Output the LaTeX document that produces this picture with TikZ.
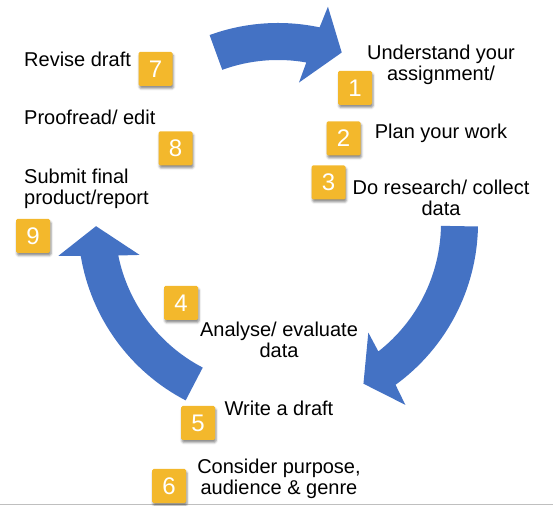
\documentclass[tikz,border=0pt]{standalone}
\usepackage{fontspec}
\setmainfont{Liberation Sans}
\usetikzlibrary{shadows.blur}
\definecolor{cycleblue}{HTML}{4472C4}
\definecolor{stepgold}{HTML}{F3B82C}

\begin{document}
\begin{tikzpicture}[
    x=1pt, y=1pt,
    numbox/.style={fill=stepgold, text=white, minimum size=34pt, inner sep=0pt, rounded corners=1.5pt, font=\fontsize{24}{24}\selectfont, blur shadow={shadow xshift=1pt, shadow yshift=-2.5pt, shadow blur steps=4, shadow opacity=45}},
    steptext/.style={font=\fontsize{20}{21}\selectfont, align=center, inner sep=0pt},
    lefttext/.style={font=\fontsize{20}{21}\selectfont, align=left, anchor=west, inner sep=0pt},
    cyclearrow/.style={fill=cycleblue}
]
    \useasboundingbox (0,0) rectangle (553,505);
    \draw[black!25, line width=0.8pt] (0,0.5) -- (553,0.5);

    % Cycle arrows
    \begin{scope}[shift={(278,282)}]
    \fill[cyclearrow] (110:200) arc[start angle=110, end angle=78, radius=200] -- (77:222) -- (69.5:182) -- (81.5:142) -- (80:163) arc[start angle=80, end angle=110, radius=163] -- cycle;
    \fill[cyclearrow] (-1:200) arc[start angle=-1, end angle=-54, radius=200] -- (-55:222) -- (-62:182) -- (-50.5:142) -- (-52:163) arc[start angle=-52, end angle=-1, radius=163] -- cycle;
    \fill[cyclearrow] (242.5:200) arc[start angle=242.5, end angle=189.5, radius=200] -- (188.5:222) -- (181:182) -- (193:142) -- (191.5:163) arc[start angle=191.5, end angle=242.5, radius=163] -- cycle;
    \end{scope}

    % Right side
    \node[steptext] (understand) at (441, 440.6) {Understand your\\assignment/};
    \node[numbox] (box1) at (355, 417) {1};
    \node[numbox] (box2) at (343.5, 366.5) {2}; \node[steptext] (plan) at (441, 372.1) {Plan your work};
    \node[numbox] (box3) at (328.5, 322.5) {3}; \node[steptext] (research) at (441, 307.2) {Do research/ collect\\data};

    % Bottom
    \node[numbox] (box4) at (181, 202) {4}; \node[steptext] (analyse) at (279, 164.7) {Analyse/ evaluate\\data};
    \node[numbox] (box5) at (198, 82) {5}; \node[steptext] (write) at (279, 96.2) {Write a draft};
    \node[numbox] (box6) at (169, 19) {6}; \node[steptext] (consider) at (279, 26.1) {Consider purpose,\\audience \& genre};

    % Left side
    \node[lefttext] (revise) at (24, 445.2) {Revise draft}; \node[numbox] (box7) at (155.5, 436) {7};
    \node[lefttext] (proofread) at (24, 387.25) {Proofread/ edit}; \node[numbox] (box8) at (175.5, 356.5) {8};
    \node[lefttext] (submit) at (24, 316.1) {Submit final\\product/report}; \node[numbox] (box9) at (33, 269) {9};
\end{tikzpicture}
\end{document}
